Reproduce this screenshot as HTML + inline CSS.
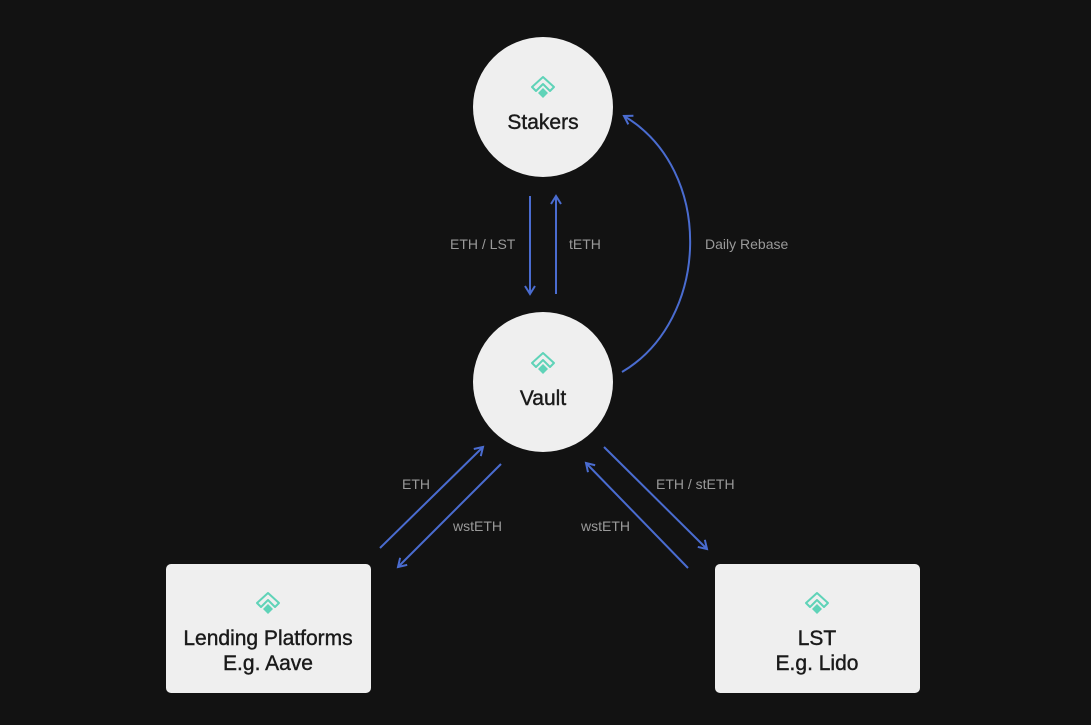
<!DOCTYPE html>
<html><head><style>
body{margin:0;background:#121212;width:1091px;height:720px;overflow:hidden;font-family:"Liberation Sans",sans-serif;}
</style></head><body>
<svg width="1091" height="720" viewBox="0 0 1091 720" xmlns="http://www.w3.org/2000/svg">
<defs>
<marker id="a" markerWidth="12" markerHeight="12" refX="9" refY="6" orient="auto" markerUnits="userSpaceOnUse">
<path d="M1,1 L9,6 L1,11" fill="none" stroke="#4a6cd0" stroke-width="2"/>
</marker>
<g id="ic">
<path d="M-11,2 L0,-8 L11,2 L7,6 L0,-1 L-7,6 Z" fill="none" stroke="#5fd3b8" stroke-width="2" stroke-linejoin="round"/>
<path d="M0,3 L5,8 L0,13 L-5,8 Z" fill="#5fd3b8"/>
</g>
</defs>
<rect width="1091" height="720" fill="#121212"/>
<circle cx="543" cy="107" r="70" fill="#efefef"/>
<circle cx="543" cy="382" r="70" fill="#efefef"/>
<rect x="166" y="564" width="205" height="129" rx="5" fill="#efefef"/>
<rect x="715" y="564" width="205" height="129" rx="5" fill="#efefef"/>
<use href="#ic" x="543" y="85"/>
<use href="#ic" x="543" y="361"/>
<use href="#ic" x="268" y="601"/>
<use href="#ic" x="817" y="601"/>
<g font-size="21" fill="#1a1a1a" text-anchor="middle" stroke="#1a1a1a" stroke-width="0.4">
<text x="543" y="129">Stakers</text>
<text x="543" y="405">Vault</text>
<text x="268" y="645">Lending Platforms</text>
<text x="268" y="670">E.g. Aave</text>
<text x="817" y="645">LST</text>
<text x="817" y="670">E.g. Lido</text>
</g>
<g stroke="#4a6cd0" stroke-width="2" fill="none" marker-end="url(#a)">
<line x1="530" y1="196" x2="530" y2="294"/>
<line x1="556" y1="294" x2="556" y2="196"/>
<path d="M622,372 C710,320 715,170 624,116"/>
<line x1="380" y1="548" x2="483" y2="447"/>
<line x1="501" y1="464" x2="398" y2="567"/>
<line x1="604" y1="447" x2="707" y2="549"/>
<line x1="688" y1="568" x2="586" y2="463"/>
</g>
<g font-size="14" fill="#9a9a9a">
<text x="450" y="249">ETH / LST</text>
<text x="569" y="249">tETH</text>
<text x="705" y="249">Daily Rebase</text>
<text x="402" y="489">ETH</text>
<text x="453" y="531">wstETH</text>
<text x="656" y="489">ETH / stETH</text>
<text x="581" y="531">wstETH</text>
</g>
</svg>
</body></html>
